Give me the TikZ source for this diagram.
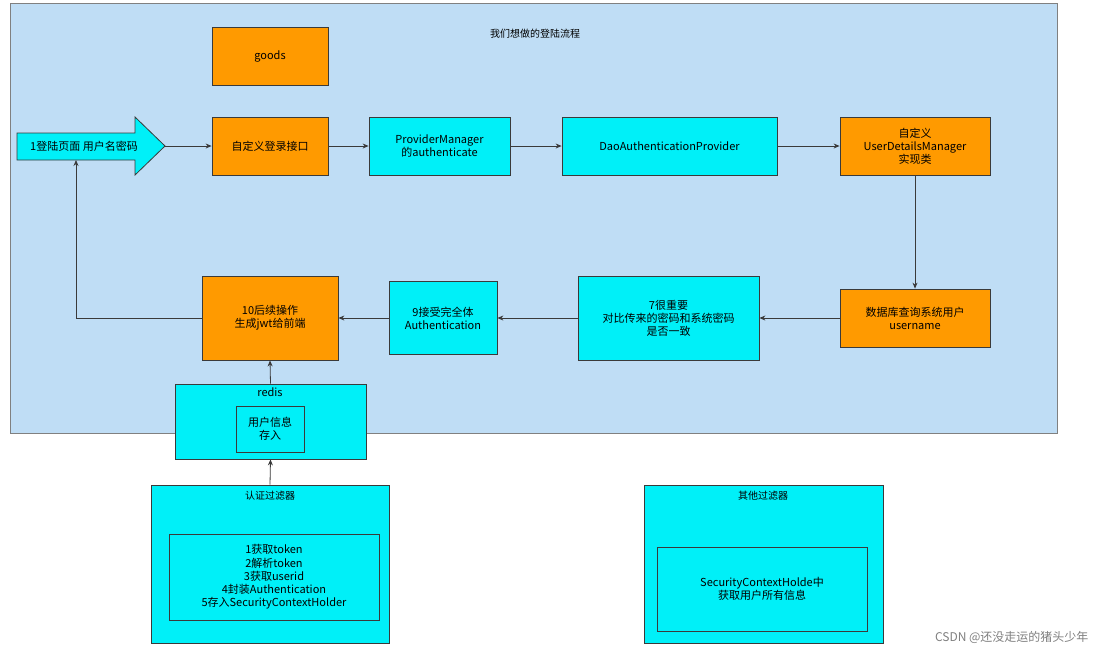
\documentclass[tikz,border=0pt]{standalone}
\usepackage{fontspec}
\setmainfont{Noto Sans CJK SC}
\usetikzlibrary{arrows.meta,shapes.arrows}
\definecolor{bgblue}{HTML}{BFDDF5}
\definecolor{org}{HTML}{FF9A00}
\definecolor{cy}{HTML}{00F0F8}
\definecolor{ln}{HTML}{3A3A3A}
\begin{document}
\begin{tikzpicture}[x=1pt,y=-1pt,
 box/.style={draw=ln,line width=0.8pt,align=center,font=\fontsize{11}{13}\selectfont,inner sep=0pt},
 ob/.style={box,fill=org},
 cb/.style={box,fill=cy},
 ar/.style={draw=ln,line width=0.8pt,-{Stealth[length=6pt,width=5pt]}}]
\useasboundingbox (0,0) rectangle (1107,657);
\fill[white] (0,0) rectangle (1107,657);
\node[draw=gray,fill=bgblue,minimum width=1047pt,minimum height=430pt,inner sep=0pt] (bg) at (533.5,218) {};
\node[font=\fontsize{10}{12}\selectfont] (title) at (535,34) {我们想做的登陆流程};
\node[ob,minimum width=116pt,minimum height=58pt] (goods) at (270,56) {goods};
\fill[cy,draw=ln,line width=0.8pt] (17,133)--(135,133)--(135,117)--(165,146)--(135,175)--(135,160)--(17,160)--cycle;
\node[font=\fontsize{11}{13}\selectfont,inner sep=1pt] (login) at (84,146) {1登陆页面 用户名密码};
\coordinate (ltip) at (165,146);
\coordinate (lbot) at (76,160);
\node[ob,minimum width=116pt,minimum height=58pt] (iface) at (270,146) {自定义登录接口};
\node[cb,minimum width=141pt,minimum height=58pt] (pm) at (439.5,146) {ProviderManager\\的authenticate};
\node[cb,minimum width=215pt,minimum height=58pt] (dao) at (669.5,146) {DaoAuthenticationProvider};
\node[ob,minimum width=150pt,minimum height=58pt] (udm) at (915,146) {自定义\\UserDetailsManager\\实现类};
\node[ob,minimum width=150pt,minimum height=58pt] (db) at (915,318) {数据库查询系统用户\\username};
\node[cb,minimum width=181pt,minimum height=84pt] (cmp) at (668.5,318) {7很重要\\对比传来的密码和系统密码\\是否一致};
\node[cb,minimum width=108pt,minimum height=73pt] (full) at (443,318) {9接受完全体\\Authentication};
\node[ob,minimum width=136pt,minimum height=84pt] (jwt) at (270,318) {10后续操作\\生成jwt给前端};
\node[cb,minimum width=191pt,minimum height=75pt] (redis) at (270.5,421.5) {};
\node[font=\fontsize{11}{13}\selectfont,inner sep=0pt] (rlab) at (270,392) {redis};
\node[cb,minimum width=68pt,minimum height=46pt] (store) at (270,429) {用户信息\\存入};
\node[cb,minimum width=238pt,minimum height=158pt] (auth) at (270,564) {};
\node[font=\fontsize{10}{12}\selectfont] (authl) at (270,496) {认证过滤器};
\node[cb,minimum width=210pt,minimum height=86pt,font=\fontsize{11}{13.3}\selectfont] (steps) at (274,577) {1获取token\\2解析token\\3获取userid\\4封装Authentication\\5存入SecurityContextHolder};
\node[cb,minimum width=239pt,minimum height=158pt] (other) at (763.5,564) {};
\node[font=\fontsize{10}{12}\selectfont] (otherl) at (763,496) {其他过滤器};
\node[cb,minimum width=210pt,minimum height=84pt] (sch) at (762,589) {SecurityContextHolde中\\获取用户所有信息};
\node[text=gray,font=\fontsize{12}{14}\selectfont,anchor=east] (wm) at (1092,637) {CSDN @还没走运的猪头少年};
\draw[ar] (ltip) -- (iface);
\draw[ar] (iface) -- (pm);
\draw[ar] (pm) -- (dao);
\draw[ar] (dao) -- (udm);
\draw[ar] (udm) -- (db);
\draw[ar] (db) -- (cmp);
\draw[ar] (cmp) -- (full);
\draw[ar] (full) -- (jwt);
\draw[ar] (jwt.west) -| (lbot);
\draw[ar] (redis.north) -- (jwt.south);
\draw[ar] (auth.north) -- (redis.south);
\end{tikzpicture}
\end{document}
